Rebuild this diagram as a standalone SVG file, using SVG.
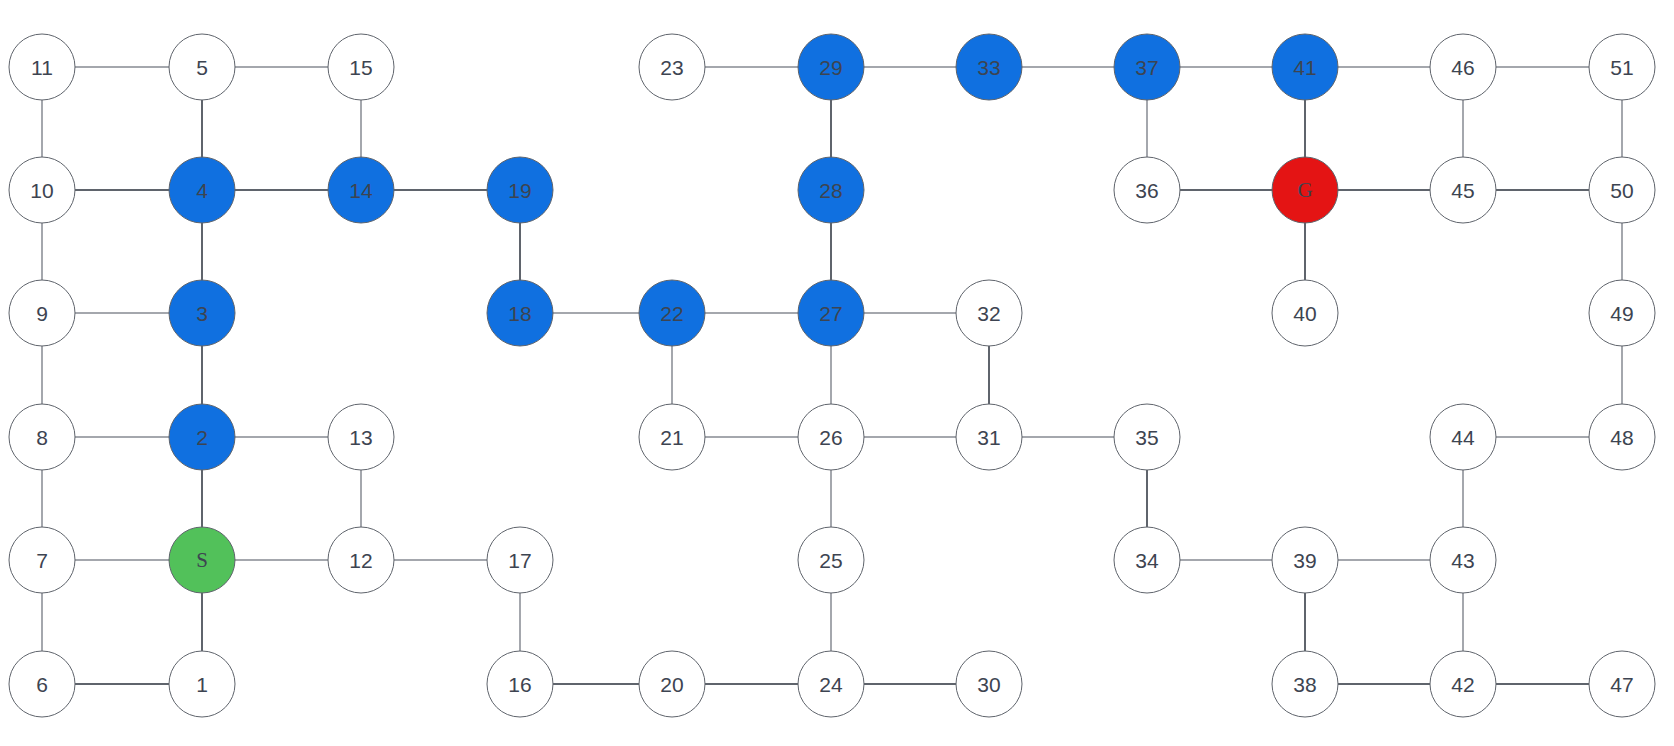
<svg xmlns="http://www.w3.org/2000/svg" width="1674" height="746" viewBox="0 0 1674 746">
<style>
.e{stroke:#a4a7ad;stroke-width:2;fill:none}
.d{stroke:#5f646c;stroke-width:2;fill:none}
circle{stroke:#5f646c;stroke-width:1;fill:#fff}
.b circle{fill:#1070e0}
.s circle{fill:#52c15a}
.g circle{fill:#e41414}
text{font-family:"Liberation Sans",Arial,sans-serif;font-size:21px;fill:#3d4451;text-anchor:middle;dominant-baseline:central}
.s text,.g text{font-family:"Liberation Serif",serif}
</style>
<rect width="1674" height="746" fill="#fff"/>
<g id="connectors">
<path class="e" d="M42 67H202M202 67H361M672 67H831M831 67H989M989 67H1147M1147 67H1305M1305 67H1463M1463 67H1622"/>
<path class="e" d="M42 67V190M361 67V190M1147 67V190M1463 67V190M1622 67V190"/>
<path class="d" d="M202 67V190M831 67V190M1305 67V190"/>
<path class="d" d="M42 190H520M1147 190H1622"/>
<path class="e" d="M42 190V313M1622 190V313"/>
<path class="d" d="M202 190V313M520 190V313M831 190V313M1305 190V313"/>
<path class="e" d="M42 313H202M520 313H989"/>
<path class="e" d="M42 313V437M672 313V437M831 313V437M1622 313V437"/>
<path class="d" d="M202 313V437M989 313V437"/>
<path class="e" d="M42 437H361M672 437H1147M1463 437H1622"/>
<path class="e" d="M42 437V560M361 437V560M831 437V560M1463 437V560"/>
<path class="d" d="M202 437V560M1147 437V560"/>
<path class="e" d="M42 560H520M1147 560H1463"/>
<path class="e" d="M42 560V684M520 560V684M831 560V684M1463 560V684"/>
<path class="d" d="M202 560V684M1305 560V684"/>
<path class="d" d="M42 684H202M520 684H989M1305 684H1622"/>
</g>
<g id="n11"><circle cx="42" cy="67" r="33"/><text x="42" y="67">11</text></g>
<g id="n10"><circle cx="42" cy="190" r="33"/><text x="42" y="190">10</text></g>
<g id="n9"><circle cx="42" cy="313" r="33"/><text x="42" y="313">9</text></g>
<g id="n8"><circle cx="42" cy="437" r="33"/><text x="42" y="437">8</text></g>
<g id="n7"><circle cx="42" cy="560" r="33"/><text x="42" y="560">7</text></g>
<g id="n6"><circle cx="42" cy="684" r="33"/><text x="42" y="684">6</text></g>
<g id="n5"><circle cx="202" cy="67" r="33"/><text x="202" y="67">5</text></g>
<g id="n4" class="b"><circle cx="202" cy="190" r="33"/><text x="202" y="190">4</text></g>
<g id="n3" class="b"><circle cx="202" cy="313" r="33"/><text x="202" y="313">3</text></g>
<g id="n2" class="b"><circle cx="202" cy="437" r="33"/><text x="202" y="437">2</text></g>
<g id="nS" class="s"><circle cx="202" cy="560" r="33"/><text x="202" y="560">S</text></g>
<g id="n1"><circle cx="202" cy="684" r="33"/><text x="202" y="684">1</text></g>
<g id="n15"><circle cx="361" cy="67" r="33"/><text x="361" y="67">15</text></g>
<g id="n14" class="b"><circle cx="361" cy="190" r="33"/><text x="361" y="190">14</text></g>
<g id="n13"><circle cx="361" cy="437" r="33"/><text x="361" y="437">13</text></g>
<g id="n12"><circle cx="361" cy="560" r="33"/><text x="361" y="560">12</text></g>
<g id="n19" class="b"><circle cx="520" cy="190" r="33"/><text x="520" y="190">19</text></g>
<g id="n18" class="b"><circle cx="520" cy="313" r="33"/><text x="520" y="313">18</text></g>
<g id="n17"><circle cx="520" cy="560" r="33"/><text x="520" y="560">17</text></g>
<g id="n16"><circle cx="520" cy="684" r="33"/><text x="520" y="684">16</text></g>
<g id="n23"><circle cx="672" cy="67" r="33"/><text x="672" y="67">23</text></g>
<g id="n22" class="b"><circle cx="672" cy="313" r="33"/><text x="672" y="313">22</text></g>
<g id="n21"><circle cx="672" cy="437" r="33"/><text x="672" y="437">21</text></g>
<g id="n20"><circle cx="672" cy="684" r="33"/><text x="672" y="684">20</text></g>
<g id="n29" class="b"><circle cx="831" cy="67" r="33"/><text x="831" y="67">29</text></g>
<g id="n28" class="b"><circle cx="831" cy="190" r="33"/><text x="831" y="190">28</text></g>
<g id="n27" class="b"><circle cx="831" cy="313" r="33"/><text x="831" y="313">27</text></g>
<g id="n26"><circle cx="831" cy="437" r="33"/><text x="831" y="437">26</text></g>
<g id="n25"><circle cx="831" cy="560" r="33"/><text x="831" y="560">25</text></g>
<g id="n24"><circle cx="831" cy="684" r="33"/><text x="831" y="684">24</text></g>
<g id="n33" class="b"><circle cx="989" cy="67" r="33"/><text x="989" y="67">33</text></g>
<g id="n32"><circle cx="989" cy="313" r="33"/><text x="989" y="313">32</text></g>
<g id="n31"><circle cx="989" cy="437" r="33"/><text x="989" y="437">31</text></g>
<g id="n30"><circle cx="989" cy="684" r="33"/><text x="989" y="684">30</text></g>
<g id="n37" class="b"><circle cx="1147" cy="67" r="33"/><text x="1147" y="67">37</text></g>
<g id="n36"><circle cx="1147" cy="190" r="33"/><text x="1147" y="190">36</text></g>
<g id="n35"><circle cx="1147" cy="437" r="33"/><text x="1147" y="437">35</text></g>
<g id="n34"><circle cx="1147" cy="560" r="33"/><text x="1147" y="560">34</text></g>
<g id="n41" class="b"><circle cx="1305" cy="67" r="33"/><text x="1305" y="67">41</text></g>
<g id="nG" class="g"><circle cx="1305" cy="190" r="33"/><text x="1305" y="190">G</text></g>
<g id="n40"><circle cx="1305" cy="313" r="33"/><text x="1305" y="313">40</text></g>
<g id="n39"><circle cx="1305" cy="560" r="33"/><text x="1305" y="560">39</text></g>
<g id="n38"><circle cx="1305" cy="684" r="33"/><text x="1305" y="684">38</text></g>
<g id="n46"><circle cx="1463" cy="67" r="33"/><text x="1463" y="67">46</text></g>
<g id="n45"><circle cx="1463" cy="190" r="33"/><text x="1463" y="190">45</text></g>
<g id="n44"><circle cx="1463" cy="437" r="33"/><text x="1463" y="437">44</text></g>
<g id="n43"><circle cx="1463" cy="560" r="33"/><text x="1463" y="560">43</text></g>
<g id="n42"><circle cx="1463" cy="684" r="33"/><text x="1463" y="684">42</text></g>
<g id="n51"><circle cx="1622" cy="67" r="33"/><text x="1622" y="67">51</text></g>
<g id="n50"><circle cx="1622" cy="190" r="33"/><text x="1622" y="190">50</text></g>
<g id="n49"><circle cx="1622" cy="313" r="33"/><text x="1622" y="313">49</text></g>
<g id="n48"><circle cx="1622" cy="437" r="33"/><text x="1622" y="437">48</text></g>
<g id="n47"><circle cx="1622" cy="684" r="33"/><text x="1622" y="684">47</text></g>
</svg>
